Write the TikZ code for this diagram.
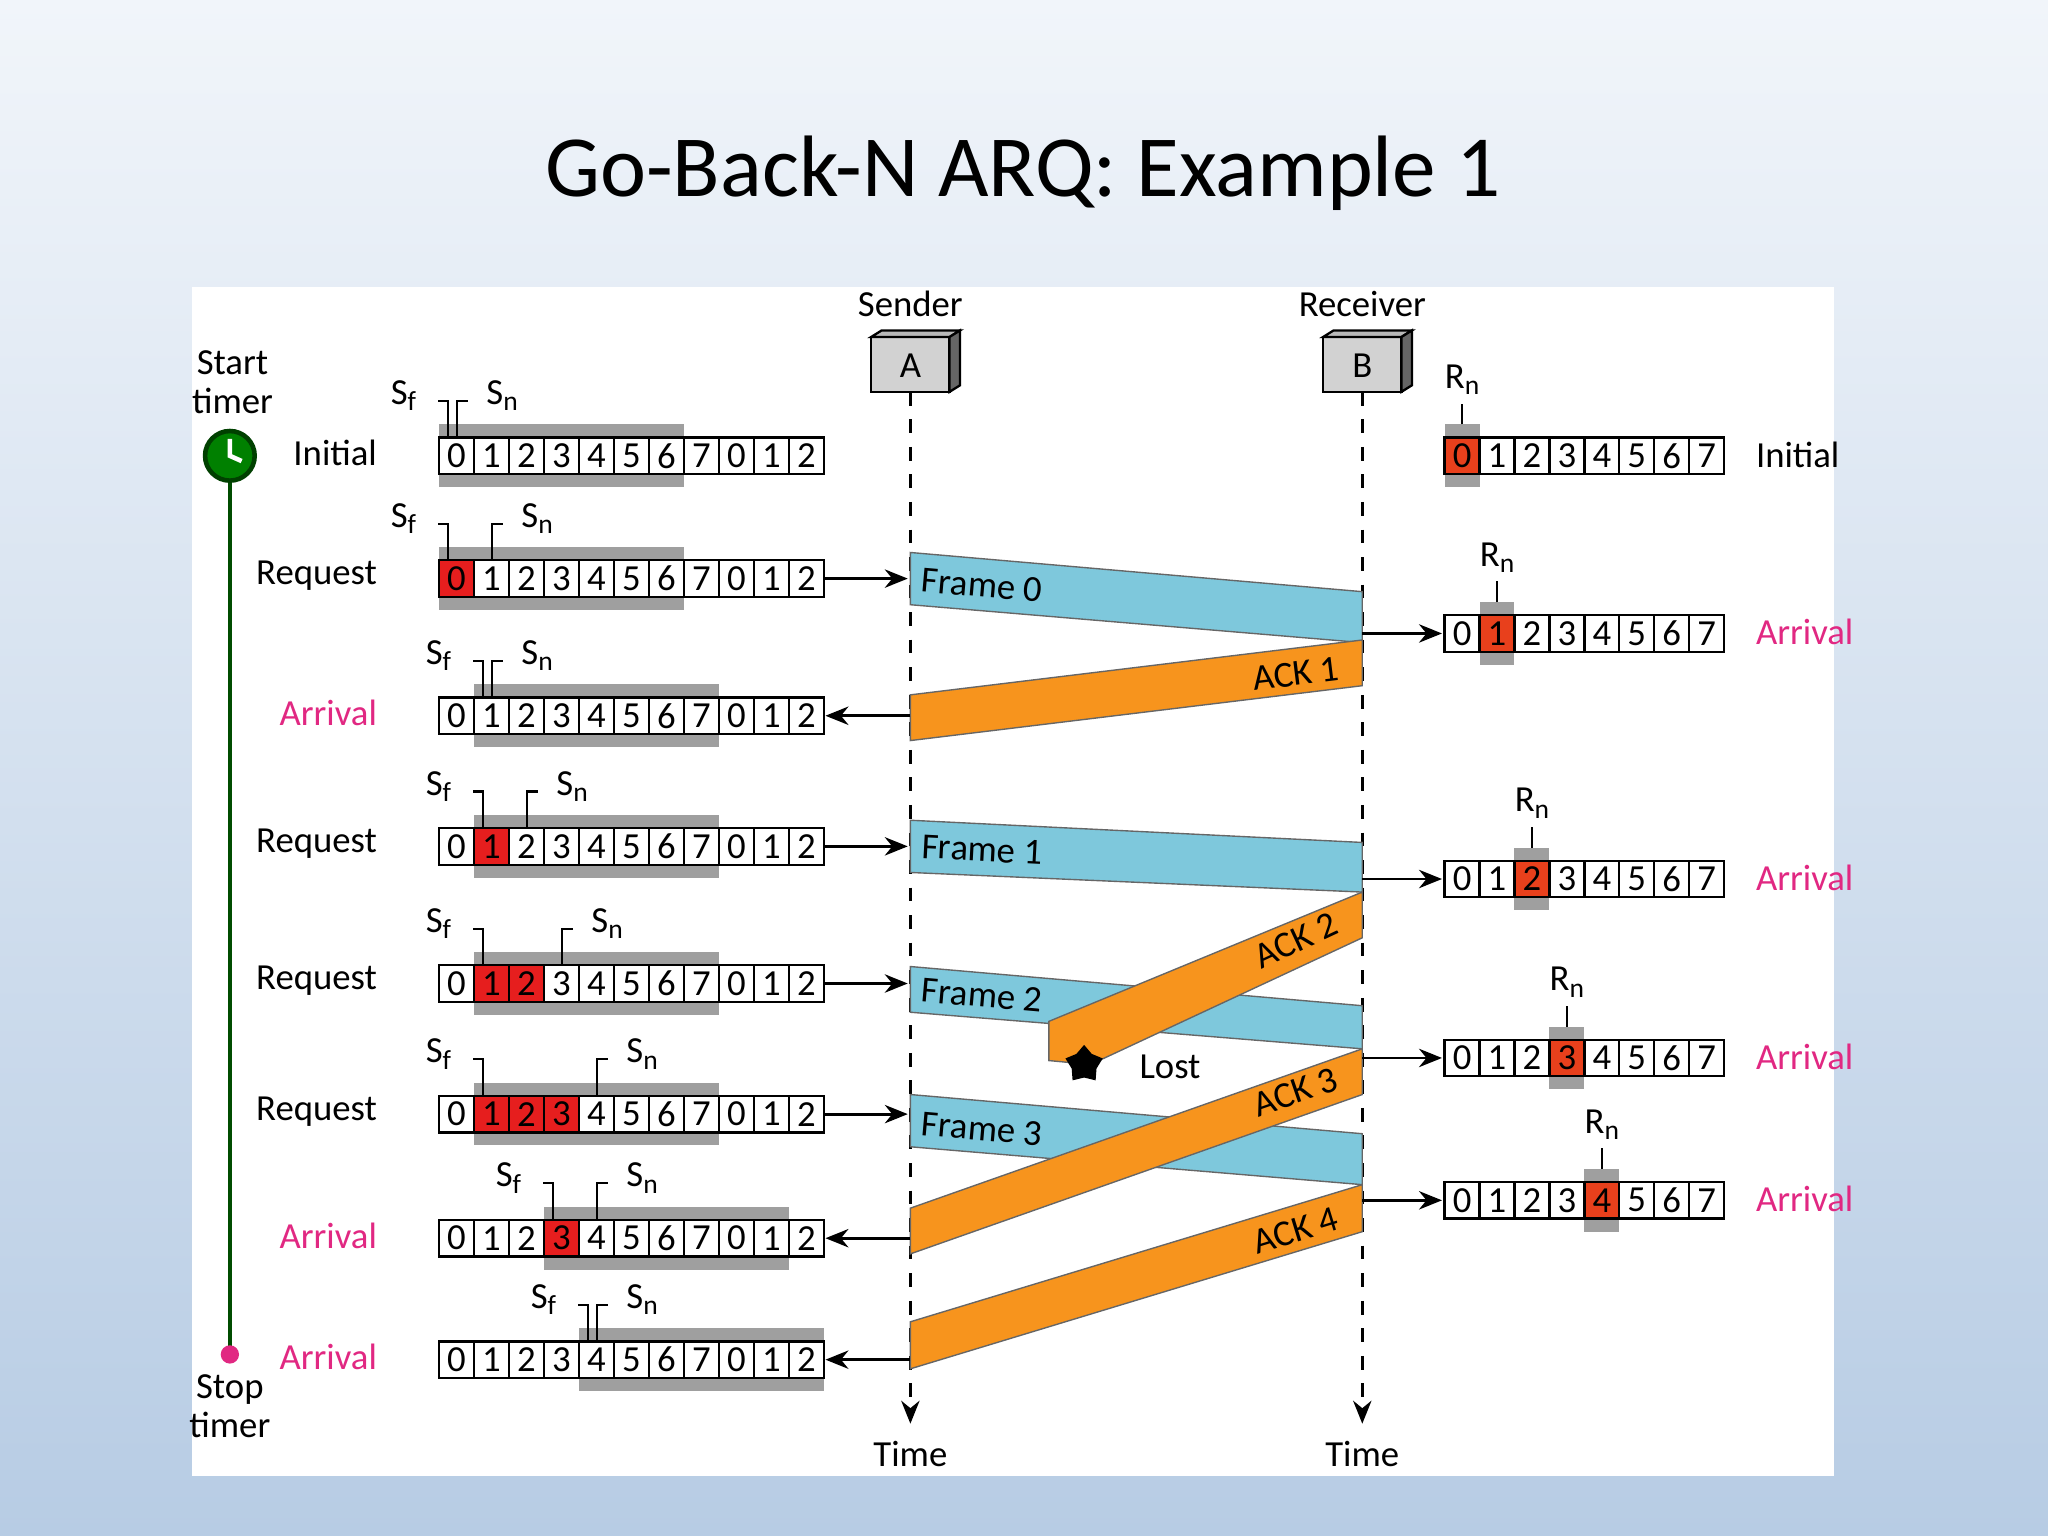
\documentclass[tikz,border=0pt]{standalone}
\usepackage{fontspec}
\setmainfont{Carlito}
\usetikzlibrary{shapes.geometric,arrows.meta}
\definecolor{mag}{RGB}{225,40,130}
\definecolor{sred}{RGB}{230,30,30}
\definecolor{rred}{RGB}{232,64,28}
\definecolor{fblue}{RGB}{126,200,220}
\definecolor{aorange}{RGB}{247,148,29}
\newcommand\lsub[1]{\raisebox{-0.35ex}{\fontsize{6}{7}\selectfont #1}}
\tikzset{
 cell/.style={draw, fill=white, line width=0.5pt, minimum width=0.268cm, minimum height=0.28cm, inner sep=0pt, font=\fontsize{8}{9}\selectfont},
 lab/.style={font=\fontsize{8}{9.5}\selectfont},
 arr/.style={-{Stealth[length=5pt,width=4pt]}, line width=0.6pt},
 frame/.style={fill=fblue, draw=black!60, line width=0.3pt},
 ack/.style={fill=aorange, draw=black!60, line width=0.3pt},
 band/.style={font=\fontsize{8}{9.5}\selectfont, inner sep=0pt},
}
\newcommand\srow[6]{% y, label, color, Sf, Sn, wstart
 \pgfmathsetmacro\yy{-#1/100}
 \pgfmathsetmacro\xw{3.36+#6*0.268}
 \fill[gray!75] (\xw,\yy+0.24) rectangle ++(7*0.268,-0.48);
 \foreach \i in {0,...,10}{\pgfmathtruncatemacro\d{mod(\i,8)}
   \node[cell] at ({3.36+(\i+0.5)*0.268},\yy) {\d};}
 \node[lab, anchor=east, text=#3] at (3.01,\yy+0.02) {#2};
 \pgfmathsetmacro\xf{3.36+#4*0.268+0.07}
 \pgfmathsetmacro\xn{3.36+#5*0.268+0.14}
 \draw[line width=0.5pt] (\xf,\yy+0.14) -- (\xf,\yy+0.42) -- (\xf-0.08,\yy+0.42);
 \draw[line width=0.5pt] (\xn,\yy+0.14) -- (\xn,\yy+0.42) -- (\xn+0.08,\yy+0.42);
 \node[lab, anchor=east] at (\xf-0.12,\yy+0.46) {S\lsub{f}};
 \node[lab, anchor=west] at (\xn+0.1,\yy+0.46) {S\lsub{n}};
}
\newcommand\sredc[2]{% y, cell
 \pgfmathtruncatemacro\d{mod(#2,8)}
 \node[cell, fill=sred] at ({3.36+(#2+0.5)*0.268},{-#1/100}) {\d};}
\newcommand\rrow[4]{% y, label, color, red
 \pgfmathsetmacro\yy{-#1/100}
 \pgfmathsetmacro\xr{11.06+#4*0.2675}
 \fill[gray!75] (\xr,\yy+0.24) rectangle ++(0.2675,-0.48);
 \foreach \i in {0,...,7}{\node[cell, minimum width=0.2675cm] at ({11.06+(\i+0.5)*0.2675},\yy) {\i};}
 \node[cell, minimum width=0.2675cm, fill=rred] at (\xr+0.134,\yy) {#4};
 \draw[line width=0.5pt] (\xr+0.134,\yy+0.24) -- (\xr+0.134,\yy+0.40);
 \node[lab] at (\xr+0.134,\yy+0.58) {R\lsub{n}};
 \node[lab, anchor=west, text=#3] at (13.32,\yy+0.01) {#2};
}
\newcommand\station[3]{% x, letter, name
 \fill[gray!35, draw=black, line width=0.5pt] (#1-0.3,-2.58) rectangle (#1+0.3,-3.00);
 \fill[gray!55, draw=black, line width=0.5pt] (#1-0.3,-2.58) -- (#1-0.22,-2.53) -- (#1+0.38,-2.53) -- (#1+0.3,-2.58) -- cycle;
 \fill[gray!80!black, draw=black, line width=0.5pt] (#1+0.3,-2.58) -- (#1+0.38,-2.53) -- (#1+0.38,-2.95) -- (#1+0.3,-3.00) -- cycle;
 \node[lab] at (#1,-2.80) {#2};
 \node[lab] at (#1,-2.33) {#3};
 \draw[dashed, line width=0.6pt, -{Stealth[length=5pt,width=4pt]}] (#1,-3.00) -- (#1,-10.90);
 \node[lab] at (#1,-11.13) {Time};
}
\begin{document}
\begin{tikzpicture}
\useasboundingbox (0,0) rectangle (15.68,-11.76);
\shade[top color={rgb,255:red,241;green,245;blue,250}, bottom color={rgb,255:red,183;green,204;blue,228}] (0,0) rectangle (15.68,-11.76);
\node[font=\fontsize{19}{22}\selectfont] (title) at (7.83,-1.33) {Go-Back-N ARQ: Example 1};
\fill[white] (1.47,-2.20) rectangle (14.04,-11.30);

% timer
\node[lab, align=center] (st) at (1.78,-2.93) {Start\\[-1pt]timer};
\node[lab, align=center] (sp) at (1.76,-10.77) {Stop\\[-1pt]timer};
\draw[line width=0.8pt, green!30!black] (1.76,-3.68) -- (1.76,-10.37);
\fill[mag] (1.76,-10.37) circle (0.07);
\draw[fill=green!50!black, draw=green!25!black, line width=1pt] (1.76,-3.49) circle (0.19);
\draw[white, line width=1pt] (1.76,-3.36) -- (1.76,-3.49) -- (1.85,-3.53);

% stations
\station{6.97}{A}{Sender}
\station{10.43}{B}{Receiver}

% sender rows
\srow{349}{Initial}{black}{0}{0}{0}
\srow{443}{Request}{black}{0}{1}{0} \sredc{443}{0}
\srow{548}{Arrival}{mag}{1}{1}{1}
\srow{648}{Request}{black}{1}{2}{1} \sredc{648}{1}
\srow{753}{Request}{black}{1}{3}{1} \sredc{753}{1}\sredc{753}{2}
\srow{853}{Request}{black}{1}{4}{1} \sredc{853}{1}\sredc{853}{2}\sredc{853}{3}
\srow{948}{Arrival}{mag}{3}{4}{3} \sredc{948}{3}
\srow{1041}{Arrival}{mag}{4}{4}{4}

% receiver rows
\rrow{349}{Initial}{black}{0}
\rrow{485}{Arrival}{mag}{1}
\rrow{673}{Arrival}{mag}{2}
\rrow{810}{Arrival}{mag}{3}
\rrow{919}{Arrival}{mag}{4}

% frames
\fill[frame] (6.97,-4.23) -- (10.43,-4.53) -- (10.43,-4.92) -- (6.97,-4.63) -- cycle;
\node[band, rotate=-5, anchor=west] at (7.05,-4.44) {Frame 0};
\fill[frame] (6.97,-6.28) -- (10.43,-6.45) -- (10.43,-6.83) -- (6.97,-6.68) -- cycle;
\node[band, rotate=-3, anchor=west] at (7.05,-6.48) {Frame 1};
\fill[frame] (6.97,-7.40) -- (10.43,-7.70) -- (10.43,-8.03) -- (6.97,-7.75) -- cycle;
\node[band, rotate=-5, anchor=west] at (7.05,-7.58) {Frame 2};
\fill[frame] (6.97,-8.38) -- (10.43,-8.68) -- (10.43,-9.07) -- (6.97,-8.78) -- cycle;
\node[band, rotate=-5, anchor=west] at (7.05,-8.60) {Frame 3};

% acks
\fill[ack] (10.43,-4.90) -- (10.43,-5.25) -- (6.97,-5.67) -- (6.97,-5.32) -- cycle;
\node[band, rotate=7] at (9.92,-5.16) {ACK 1};
\fill[ack] (10.43,-6.83) -- (10.43,-7.18) -- (8.35,-8.15) -- (8.03,-8.12) -- (8.03,-7.82) -- cycle;
\node[band, rotate=25] at (9.92,-7.20) {ACK 2};
\node[star, star points=5, fill=black, minimum size=0.30cm, inner sep=0pt] (lost) at (8.30,-8.15) {};
\node[lab, anchor=west] at (8.60,-8.17) {Lost};
\fill[ack] (10.43,-8.03) -- (10.43,-8.38) -- (6.97,-9.60) -- (6.97,-9.25) -- cycle;
\node[band, rotate=19] at (9.92,-8.36) {ACK 3};
\fill[ack] (10.43,-9.07) -- (10.43,-9.43) -- (6.97,-10.48) -- (6.97,-10.12) -- cycle;
\node[band, rotate=17] at (9.92,-9.42) {ACK 4};

% sender arrows
\foreach \y in {443,648,753,853}{\draw[arr] (6.31,-\y/100) -- (6.95,-\y/100);}
\foreach \y in {548,948,1041}{\draw[arr] (6.97,-\y/100) -- (6.32,-\y/100);}
% receiver arrows
\foreach \y in {485,673,810,919}{\draw[arr] (10.43,-\y/100) -- (11.04,-\y/100);}
\end{tikzpicture}
\end{document}
